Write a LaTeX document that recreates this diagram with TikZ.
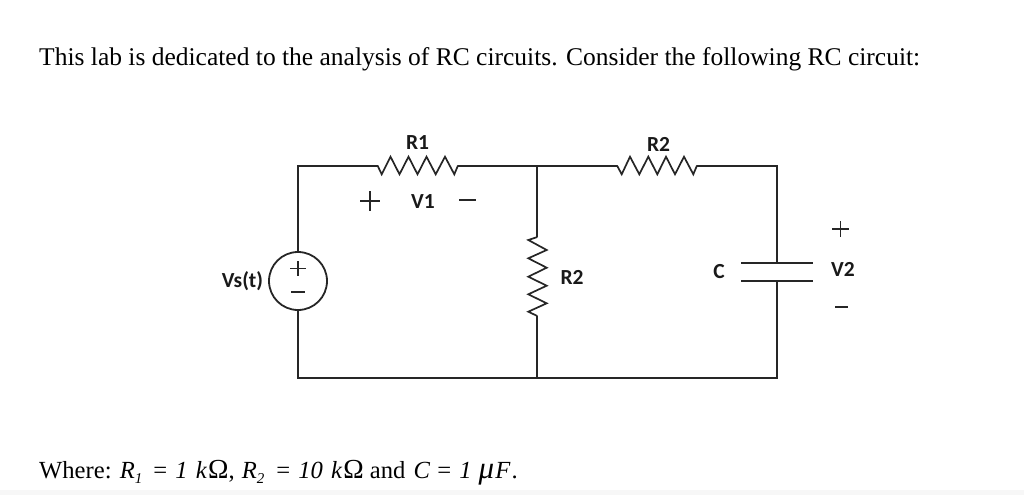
\documentclass[tikz,border=0pt]{standalone}
\usepackage{fontspec}
\setmainfont{Liberation Serif}
\newfontfamily\lblfont[Scale=1]{Carlito}
\newcommand{\subnum}[1]{\raisebox{-0.22em}{\fontsize{15}{15}\selectfont\textit{#1}}}
\newcommand{\bigohm}{{\fontsize{27.5}{28}\selectfont Ω}}
\newcommand{\bigmu}{{\fontsize{31}{28}\selectfont μ}}
\begin{document}
\begin{tikzpicture}[x=1pt,y=-1pt,
  wire/.style={line width=2pt,draw=black!85,line join=miter},
  thin wire/.style={line width=1.7pt,draw=black!85},
  lbl/.style={font=\lblfont\bfseries\fontsize{21.5}{24}\selectfont,inner sep=0pt,text=black!90},
  sign/.style={line width=1.4pt,draw=black!85},
  para/.style={font=\fontsize{25.5}{28}\selectfont,inner sep=0pt,anchor=base west}]
\useasboundingbox (0,0) rectangle (1024,495);
\fill[black!3] (0,490) rectangle (1024,495);
\node[para] (intro) at (39,65) {This lab is dedicated to the analysis of RC circuits. Consider the following RC circuit:};
\node[para,font=\fontsize{24.6}{28}\selectfont] (where) at (39,478) {Where: \textit{R}\subnum{1}\hspace{11pt}=\hspace{2pt} \textit{1\hspace{2pt} k}\hspace{1pt}\bigohm,\hspace{1pt} \textit{R}\subnum{2}\hspace{12pt}=\hspace{2pt} \textit{10\hspace{2pt} k}\hspace{1pt}\bigohm\hspace{0pt} and\hspace{2pt} \textit{C}\hspace{1pt} =\hspace{2pt} \textit{1\hspace{7pt}\bigmu\hspace{1pt}F}\hspace{1pt}.};
% corners
\coordinate (tl) at (298,165.5);
\coordinate (tj) at (537.3,165.5);
\coordinate (tr) at (777,165.5);
\coordinate (bl) at (298,378);
\coordinate (bj) at (537.3,378);
\coordinate (br) at (777,378);
% source
\node[circle,draw=black!85,line width=1.8pt,minimum size=58pt,inner sep=0pt] (vs) at (298,281) {};
\draw[sign] (298,261) -- (298,275.5) (290,268.5) -- (306,268.5);
\draw[sign] (291,292) -- (305,292);
% resistors
\coordinate (r1a) at (377.5,165.5);
\coordinate (r1b) at (458,165.5);
\coordinate (r2a) at (617,165.5);
\coordinate (r2b) at (697,165.5);
\coordinate (r3a) at (537.3,237);
\coordinate (r3b) at (537.3,316);
\coordinate (c1) at (777,263);
\coordinate (c2) at (777,281);
\draw[wire] (vs.north) -- (tl) -- (r1a);
\draw[wire] (r1b) -- (tj) -- (r2a);
\draw[wire] (r2b) -- (tr) -- (c1);
\draw[wire] (c2) -- (br) -- (bl) -- (vs.south);
\draw[wire] (tj) -- (r3a);
\draw[wire] (r3b) -- (bj);
\draw[thin wire] (r1a) -- (381.7,174.3) -- (390.5,156.7) -- (399.5,174.3) -- (408.5,156.7) -- (417.5,174.3) -- (426.5,156.7) -- (435.7,174.3) -- (445,156.7) -- (454.3,174.3) -- (r1b);
\draw[thin wire] (r2a) -- (621.7,174.3) -- (630,156.7) -- (639.3,174.3) -- (648.3,156.7) -- (657.3,174.3) -- (666,156.7) -- (675,174.3) -- (684,156.7) -- (693.3,174.3) -- (r2b);
\draw[thin wire] (r3a) -- (528.3,240) -- (546.7,250) -- (528.3,258.3) -- (546.7,267.7) -- (528.3,276.7) -- (546.7,285.7) -- (528.3,294.3) -- (546.7,303.3) -- (528.3,311.7) -- (r3b);
% capacitor
\draw[thin wire] (741,263) -- (813,263);
\draw[thin wire] (741,281) -- (813,281);
% labels
\node[lbl] (lr1) at (417.5,143) {R1};
\node[lbl] (lr2) at (658.5,144) {R2};
\node[lbl] (lv1) at (423,202) {V1};
\node[lbl] (lvs) at (242.5,281) {Vs(t)};
\node[lbl] (lr3) at (572,277) {R2};
\node[lbl] (lc) at (719,272) {C};
\node[lbl] (lv2) at (843,269) {V2};
% polarity
\draw[sign] (360,201) -- (380,201) (370,191) -- (370,211);
\draw[sign] (459,200) -- (476,200);
\draw[sign] (832,229) -- (849,229) (840.5,221) -- (840.5,237);
\draw[sign] (835,307) -- (848,307);
\end{tikzpicture}
\end{document}
